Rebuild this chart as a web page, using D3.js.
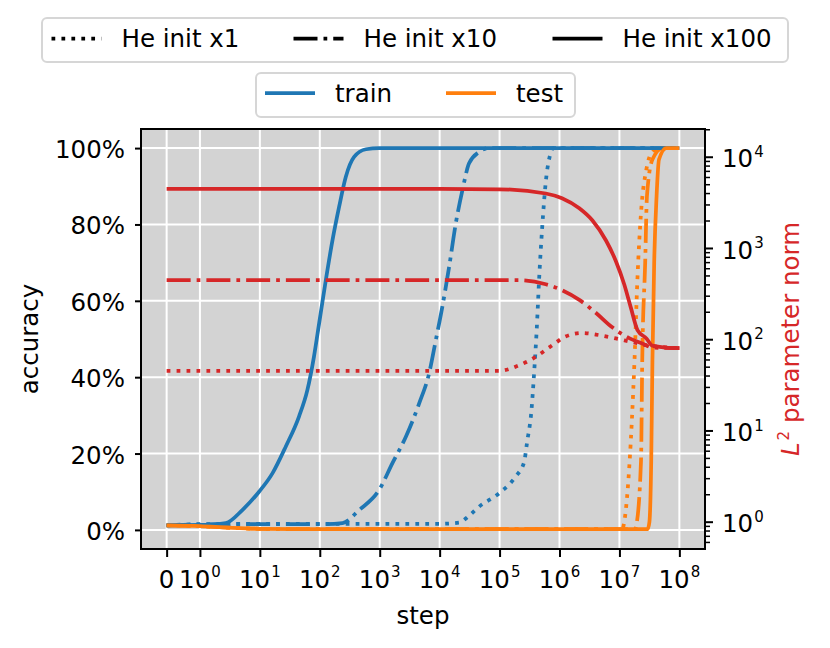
<!DOCTYPE html>
<html>
<head>
<meta charset="utf-8">
<script src="https://cdn.jsdelivr.net/npm/d3@7"></script>
<style>
    body { margin: 0; background: #ffffff; }
    text { font-family: "DejaVu Sans", sans-serif; }
</style>
</head>
<body>
<div id="chart"></div>
<script>
// ---- values ----
const initLabels = ["He init x1", "He init x10", "He init x100"];
const splitLabels = ["train", "test"];

const xTickValues = [0, 1, 10, 100, 1e3, 1e4, 1e5, 1e6, 1e7, 1e8];
const accTickValues = [0, 0.2, 0.4, 0.6, 0.8, 1.0];
const accTickLabels = ["0%", "20%", "40%", "60%", "80%", "100%"];
const normTickValues = [1, 10, 100, 1000, 10000];

// train accuracy
const trainStepsX1 = [0, 1, 10, 100, 1000, 10000, 21100, 30900, 45700, 98000, 186000, 257000, 288000, 339000, 380000, 417000, 457000, 513000, 589000, 724000, 780000, 1e8];
const trainAccX1 = [0.012, 0.015, 0.016, 0.016, 0.016, 0.016, 0.019, 0.037, 0.061, 0.096, 0.14, 0.178, 0.23, 0.31, 0.42, 0.526, 0.657, 0.79, 0.91, 0.99, 1.0, 1.0];

const trainStepsX10 = [0, 1, 10, 100, 240, 453, 980, 1630, 2730, 4570, 6670, 8630, 11100, 14400, 18600, 24000, 31000, 45700, 66000, 1e8];
const trainAccX10 = [0.012, 0.014, 0.015, 0.015, 0.018, 0.052, 0.105, 0.175, 0.244, 0.332, 0.41, 0.497, 0.585, 0.689, 0.803, 0.89, 0.96, 0.99, 1.0, 1.0];

const trainStepsX100 = [0, 1, 2.7, 5.1, 9.7, 16.2, 27, 45, 62, 80, 97.5, 126, 163, 210, 272, 374, 590, 980, 1e8];
const trainAccX100 = [0.012, 0.013, 0.018, 0.052, 0.10, 0.148, 0.218, 0.297, 0.366, 0.454, 0.541, 0.654, 0.759, 0.846, 0.925, 0.977, 0.997, 1.0, 1.0];

// test accuracy
const testStepsX1 = [0, 1, 3, 10, 100, 1e6, 1.12e7, 1.2e7, 1.48e7, 1.78e7, 2.0e7, 2.29e7, 2.82e7, 3.55e7, 4.57e7, 1e8];
const testAccX1 = [0.012, 0.010, 0.006, 0.003, 0.002, 0.002, 0.002, 0.02, 0.18, 0.44, 0.66, 0.83, 0.945, 0.99, 1.0, 1.0];

const testStepsX10 = [0, 1, 3, 10, 100, 1e6, 1.82e7, 1.9e7, 2.29e7, 2.4e7, 2.69e7, 2.88e7, 3.55e7, 5.25e7, 1e8];
const testAccX10 = [0.012, 0.010, 0.006, 0.003, 0.002, 0.002, 0.002, 0.01, 0.18, 0.44, 0.70, 0.875, 0.97, 1.0, 1.0];

const testStepsX100 = [0, 1, 3, 10, 100, 1e6, 2.95e7, 3.16e7, 3.39e7, 3.55e7, 3.8e7, 4.17e7, 4.57e7, 6.03e7, 1e8];
const testAccX100 = [0.012, 0.010, 0.006, 0.003, 0.002, 0.002, 0.002, 0.02, 0.18, 0.44, 0.70, 0.875, 0.97, 1.0, 1.0];

// L2 parameter norm
const normStepsX1 = [0, 1e4, 9.8e4, 2.14e5, 4.0e5, 7.6e5, 1.26e6, 2.4e6, 4.57e6, 8.7e6, 1.62e7, 3.16e7, 1e8];
const normX1 = [45, 45, 45, 52, 64, 86, 107, 117, 111, 102, 93, 85, 80];

const normStepsX10 = [0, 1e5, 2.14e5, 5.9e5, 1.1e6, 2.14e6, 4.07e6, 7.6e6, 1.48e7, 2.4e7, 3.55e7, 1e8];
const normX10 = [444, 444, 444, 400, 345, 270, 194, 135, 102, 90, 81, 80];

const normStepsX100 = [0, 1e4, 1e5, 5.9e5, 1.1e6, 2.14e6, 3.55e6, 6.0e6, 8.7e6, 1.2e7, 1.55e7, 2.0e7, 2.82e7, 3.55e7, 6.0e7, 1e8];
const normX100 = [4440, 4440, 4400, 3955, 3510, 2720, 2000, 1200, 720, 400, 222, 126, 102, 85, 81, 80];

// ---- layout ----
let svgWidth = 830;
let svgHeight = 648;
let plot = { left: 141, right: 705, top: 129, bottom: 549 };

const blue = "#1f77b4", orange = "#ff7f0e", red = "#d62728";
const fontSize = 24.5, supSize = 15;
const lw = 3.75;
const dashes = ["3.75,6.2", "24,6,3.75,6", null];

// matplotlib style symlog (linthresh 1, linscale 0.5)
const linscaleAdj = 0.5 / (1 - 1 / 10);
function symlog(v) {
    return Math.abs(v) <= 1 ? v * linscaleAdj : Math.sign(v) * (linscaleAdj + Math.log10(Math.abs(v)));
}

let uMin = symlog(0), uMax = symlog(1e8), pad = 0.05 * (uMax - uMin);
var x = d3.scaleLinear().domain([uMin - pad, uMax + pad]).range([plot.left, plot.right]);
var yAcc = d3.scaleLinear().domain([-0.05, 1.05]).range([plot.bottom, plot.top]);
var yNorm = d3.scaleLog().domain([0.502, 20140]).range([plot.bottom, plot.top]);

var svg = d3.select("#chart")
    .append("svg")
    .attr("width", svgWidth)
    .attr("height", svgHeight);

svg.append("defs").append("clipPath")
    .attr("id", "plotclip")
    .append("rect")
    .attr("x", plot.left).attr("y", plot.top)
    .attr("width", plot.right - plot.left).attr("height", plot.bottom - plot.top);

// background + grid
svg.append("rect")
    .attr("x", plot.left).attr("y", plot.top)
    .attr("width", plot.right - plot.left).attr("height", plot.bottom - plot.top)
    .attr("fill", "#d3d3d3");

var grid = svg.append("g").attr("stroke", "#ffffff").attr("stroke-width", 2);
grid.selectAll("line.gx")
    .data(xTickValues)
    .enter()
    .append("line")
    .attr("x1", d => x(symlog(d))).attr("x2", d => x(symlog(d)))
    .attr("y1", plot.top).attr("y2", plot.bottom);
grid.selectAll("line.gy")
    .data(accTickValues)
    .enter()
    .append("line")
    .attr("x1", plot.left).attr("x2", plot.right)
    .attr("y1", d => yAcc(d)).attr("y2", d => yAcc(d));

// curves
var accLine = d3.line()
    .x(d => x(symlog(d[0])))
    .y(d => yAcc(d[1]))
    .curve(d3.curveMonotoneX);

var normLine = d3.line()
    .x(d => x(symlog(d[0])))
    .y(d => yNorm(d[1]))
    .curve(d3.curveMonotoneX);

var accSeries = [
    { pts: d3.zip(trainStepsX1, trainAccX1), color: blue, dash: dashes[0] },
    { pts: d3.zip(testStepsX1, testAccX1), color: orange, dash: dashes[0] },
    { pts: d3.zip(trainStepsX10, trainAccX10), color: blue, dash: dashes[1] },
    { pts: d3.zip(testStepsX10, testAccX10), color: orange, dash: dashes[1] },
    { pts: d3.zip(trainStepsX100, trainAccX100), color: blue, dash: dashes[2] },
    { pts: d3.zip(testStepsX100, testAccX100), color: orange, dash: dashes[2] }
];

var normSeries = [
    { pts: d3.zip(normStepsX1, normX1), color: red, dash: dashes[0] },
    { pts: d3.zip(normStepsX10, normX10), color: red, dash: dashes[1] },
    { pts: d3.zip(normStepsX100, normX100), color: red, dash: dashes[2] }
];

var lineGroup = svg.append("g").attr("clip-path", "url(#plotclip)");

lineGroup.selectAll("path.acc")
    .data(accSeries)
    .enter()
    .append("path")
    .attr("d", d => accLine(d.pts))
    .attr("fill", "none")
    .attr("stroke", d => d.color)
    .attr("stroke-width", lw)
    .attr("stroke-dasharray", d => d.dash)
    .attr("stroke-linejoin", "round");

lineGroup.selectAll("path.norm")
    .data(normSeries)
    .enter()
    .append("path")
    .attr("d", d => normLine(d.pts))
    .attr("fill", "none")
    .attr("stroke", d => d.color)
    .attr("stroke-width", lw)
    .attr("stroke-dasharray", d => d.dash)
    .attr("stroke-linejoin", "round");

// spines
svg.append("rect")
    .attr("x", plot.left).attr("y", plot.top)
    .attr("width", plot.right - plot.left).attr("height", plot.bottom - plot.top)
    .attr("fill", "none")
    .attr("stroke", "#000000")
    .attr("stroke-width", 2);

// bottom axis (symlog) ticks
var bottomAxis = d3.axisBottom(x)
    .tickValues(xTickValues.map(symlog))
    .tickSize(8)
    .tickFormat("");
svg.append("g")
    .attr("transform", `translate(0, ${plot.bottom})`)
    .call(bottomAxis)
    .call(g => g.select(".domain").remove())
    .call(g => g.selectAll(".tick line").attr("stroke-width", 2));

// power-of-ten label helper
function powerLabel(sel, v) {
    if (v === 0) {
        sel.text("0");
        return;
    }
    let exp = Math.round(Math.log10(v));
    sel.append("tspan").text("10");
    sel.append("tspan")
        .attr("font-size", supSize)
        .attr("dy", -10.4)
        .attr("dx", 1)
        .text(exp);
}

svg.append("g").selectAll("text")
    .data(xTickValues)
    .enter()
    .append("text")
    .attr("x", d => x(symlog(d)))
    .attr("y", 587.5)
    .attr("text-anchor", "middle")
    .attr("font-size", fontSize)
    .each(function(d) { powerLabel(d3.select(this), d); });

// left axis
var leftAxis = d3.axisLeft(yAcc)
    .tickValues(accTickValues)
    .tickSize(6)
    .tickFormat("");
svg.append("g")
    .attr("transform", `translate(${plot.left}, 0)`)
    .call(leftAxis)
    .call(g => g.select(".domain").remove())
    .call(g => g.selectAll(".tick line").attr("stroke-width", 2));

svg.append("g").selectAll("text")
    .data(accTickValues)
    .enter()
    .append("text")
    .attr("x", 125)
    .attr("y", d => yAcc(d) + 10)
    .attr("text-anchor", "end")
    .attr("font-size", fontSize)
    .text((d, i) => accTickLabels[i]);

// right axis (log) major + minor ticks
var minorValues = [];
for (let k = -1; k <= 4; k++) {
    for (let m = 2; m <= 9; m++) {
        let v = m * Math.pow(10, k);
        if (v >= yNorm.domain()[0] && v <= yNorm.domain()[1]) minorValues.push(v);
    }
}

var rightAxis = d3.axisRight(yNorm)
    .tickValues(normTickValues)
    .tickSize(8)
    .tickFormat("");
svg.append("g")
    .attr("transform", `translate(${plot.right}, 0)`)
    .call(rightAxis)
    .call(g => g.select(".domain").remove())
    .call(g => g.selectAll(".tick line").attr("stroke-width", 2));

var rightMinor = d3.axisRight(yNorm)
    .tickValues(minorValues)
    .tickSize(5)
    .tickFormat("");
svg.append("g")
    .attr("transform", `translate(${plot.right}, 0)`)
    .call(rightMinor)
    .call(g => g.select(".domain").remove())
    .call(g => g.selectAll(".tick line").attr("stroke-width", 1.5));

svg.append("g").selectAll("text")
    .data(normTickValues)
    .enter()
    .append("text")
    .attr("x", 722)
    .attr("y", d => yNorm(d) + 10.6)
    .attr("font-size", fontSize)
    .each(function(d) { powerLabel(d3.select(this), d); });

// axis titles
svg.append("text")
    .attr("transform", `translate(38, ${(plot.top + plot.bottom) / 2}) rotate(-90)`)
    .attr("text-anchor", "middle")
    .attr("font-size", fontSize)
    .text("accuracy");

svg.append("text")
    .attr("x", (plot.left + plot.right) / 2)
    .attr("y", 624)
    .attr("text-anchor", "middle")
    .attr("font-size", fontSize)
    .text("step");

var normTitle = svg.append("text")
    .attr("transform", `translate(799, ${(plot.top + plot.bottom) / 2}) rotate(-90)`)
    .attr("text-anchor", "middle")
    .attr("font-size", fontSize)
    .attr("fill", red);
normTitle.append("tspan").attr("font-style", "italic").text("L");
normTitle.append("tspan").attr("font-size", supSize).attr("dy", -10.4).attr("dx", 2).text("2");
normTitle.append("tspan").attr("dy", 10.4).text(" parameter norm");

// legends
function drawLegend(box, entries) {
    let g = svg.append("g");
    g.append("rect")
        .attr("x", box.x).attr("y", box.y)
        .attr("width", box.w).attr("height", box.h)
        .attr("rx", 5)
        .attr("fill", "#ffffff")
        .attr("fill-opacity", 0.8)
        .attr("stroke", "#cccccc")
        .attr("stroke-opacity", 0.8)
        .attr("stroke-width", 2);

    g.selectAll("line")
        .data(entries)
        .enter()
        .append("line")
        .attr("x1", d => d.hx)
        .attr("x2", d => d.hx + 50)
        .attr("y1", box.lineY).attr("y2", box.lineY)
        .attr("stroke", d => d.color)
        .attr("stroke-width", lw)
        .attr("stroke-dasharray", d => d.dash);

    g.selectAll("text")
        .data(entries)
        .enter()
        .append("text")
        .attr("x", d => d.hx + 70)
        .attr("y", box.textY)
        .attr("font-size", fontSize)
        .text(d => d.label);
}

drawLegend({ x: 42, y: 18, w: 746, h: 44, lineY: 38.5, textY: 47 }, [
    { label: initLabels[0], color: "#000000", dash: dashes[0], hx: 51.5 },
    { label: initLabels[1], color: "#000000", dash: dashes[1], hx: 293.5 },
    { label: initLabels[2], color: "#000000", dash: dashes[2], hx: 552.5 }
]);

drawLegend({ x: 256, y: 73, w: 319, h: 44, lineY: 93, textY: 102 }, [
    { label: splitLabels[0], color: blue, dash: dashes[2], hx: 265 },
    { label: splitLabels[1], color: orange, dash: dashes[2], hx: 446 }
]);
</script>
</body>
</html>
